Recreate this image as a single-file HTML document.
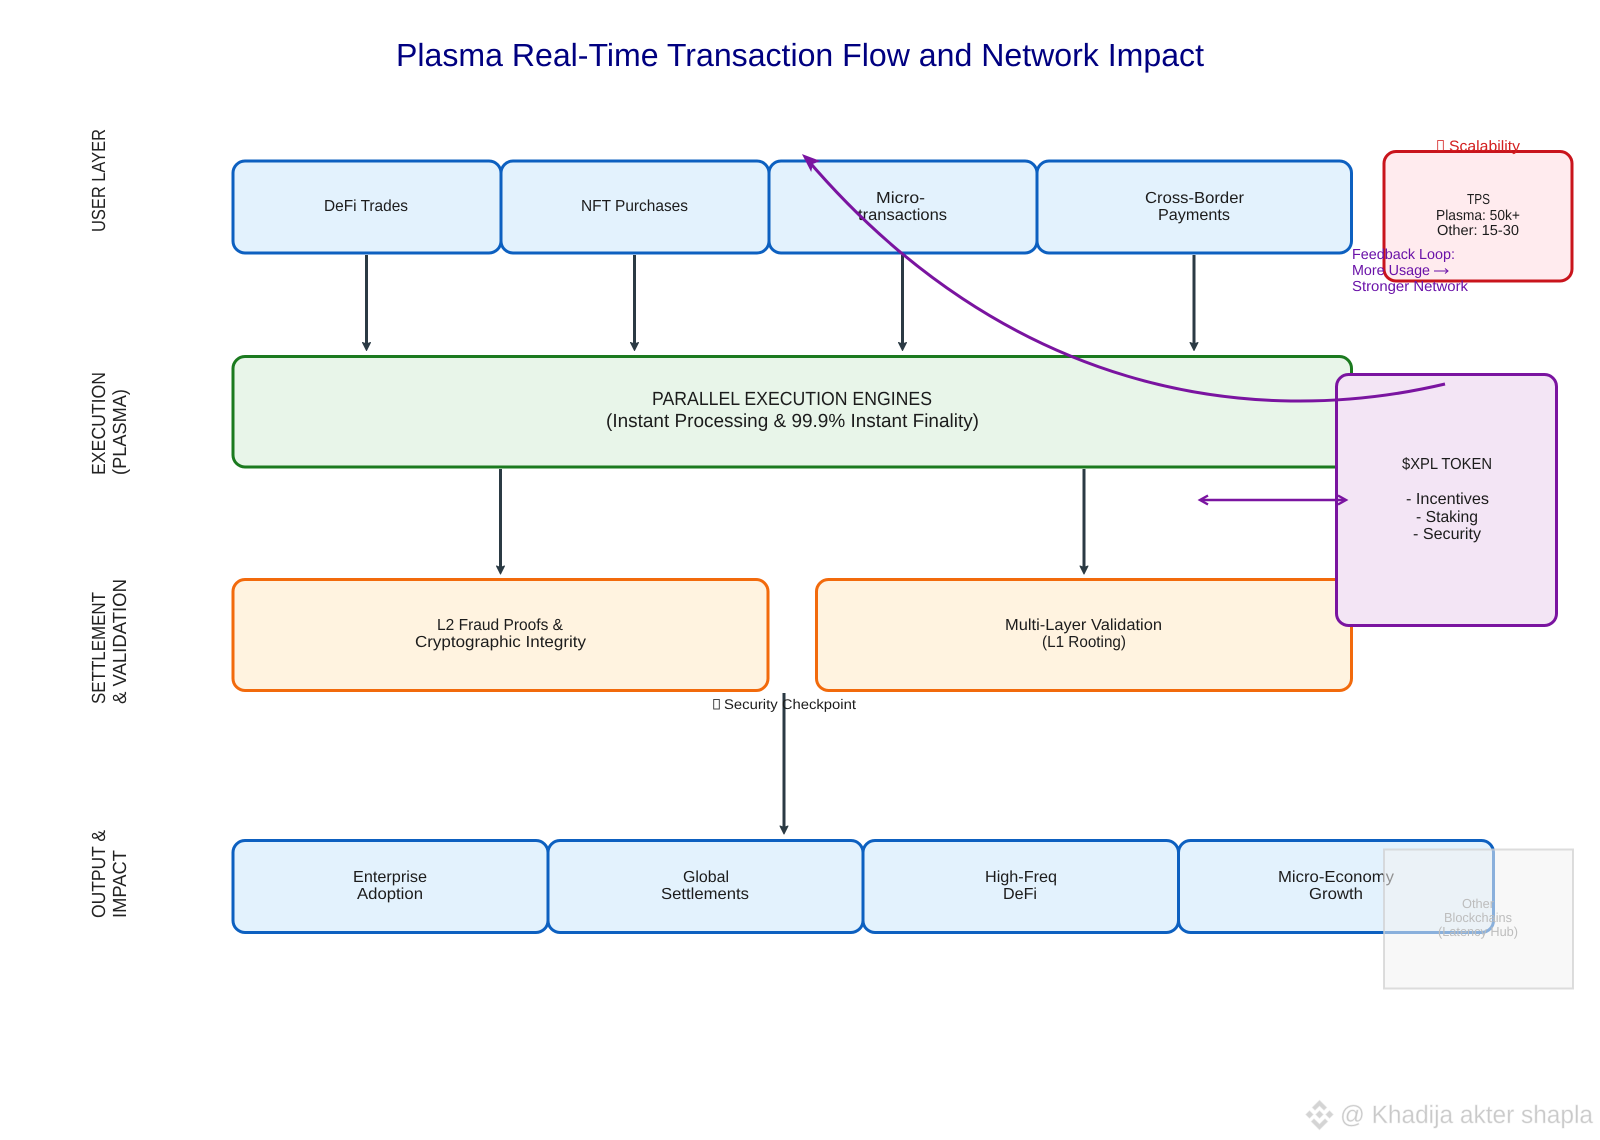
<!DOCTYPE html>
<html lang="en">
<head>
<meta charset="utf-8">
<title>Plasma Real-Time Transaction Flow and Network Impact</title>
<style>
html,body{margin:0;padding:0;background:#fff;}
svg{display:block;}
text{font-family:"Liberation Sans",sans-serif;fill:#1c1c1c;white-space:pre;text-rendering:geometricPrecision;}
.b{font-size:16px;}
.l{font-size:19px;fill:#222;}
</style>
</head>
<body>
<svg width="1600" height="1140" viewBox="0 0 1600 1140" xmlns="http://www.w3.org/2000/svg">
<rect width="1600" height="1140" fill="#fff"/>

<text x="396" y="66" font-size="32" style="fill:#000080" textLength="808" lengthAdjust="spacingAndGlyphs">Plasma Real-Time Transaction Flow and Network Impact</text>

<!-- Layer labels -->
<g class="labels">
<text class="l" transform="translate(105,232) rotate(-90)" textLength="103" lengthAdjust="spacingAndGlyphs">USER LAYER</text>
<text class="l" transform="translate(105,475) rotate(-90)" textLength="103" lengthAdjust="spacingAndGlyphs">EXECUTION</text>
<text class="l" transform="translate(126,475) rotate(-90)" textLength="86" lengthAdjust="spacingAndGlyphs">(PLASMA)</text>
<text class="l" transform="translate(105,704) rotate(-90)" textLength="112" lengthAdjust="spacingAndGlyphs">SETTLEMENT</text>
<text class="l" transform="translate(126,704) rotate(-90)" textLength="125" lengthAdjust="spacingAndGlyphs">&amp; VALIDATION</text>
<text class="l" transform="translate(105,918) rotate(-90)" textLength="88" lengthAdjust="spacingAndGlyphs">OUTPUT &amp;</text>
<text class="l" transform="translate(126,918) rotate(-90)" textLength="68" lengthAdjust="spacingAndGlyphs">IMPACT</text>
</g>

<!-- User layer -->
<g fill="#e3f2fd" stroke="#0d60c0" stroke-width="3">
<rect x="233" y="161" width="268" height="92" rx="12"/>
<rect x="501" y="161" width="268" height="92" rx="12"/>
<rect x="769" y="161" width="268" height="92" rx="12"/>
<rect x="1037" y="161" width="314.5" height="92" rx="12"/>
</g>
<text class="b" x="324" y="211" textLength="84" lengthAdjust="spacingAndGlyphs">DeFi Trades</text>
<text class="b" x="581" y="211" textLength="107" lengthAdjust="spacingAndGlyphs">NFT Purchases</text>
<text class="b" x="876" y="203" textLength="49" lengthAdjust="spacingAndGlyphs">Micro-</text>
<text class="b" x="858" y="220" textLength="89" lengthAdjust="spacingAndGlyphs">transactions</text>
<text class="b" x="1145" y="203" textLength="99" lengthAdjust="spacingAndGlyphs">Cross-Border</text>
<text class="b" x="1158" y="220" textLength="72" lengthAdjust="spacingAndGlyphs">Payments</text>

<!-- Execution -->
<rect x="233" y="356.5" width="1118.5" height="110.5" rx="12" fill="#e8f5e9" stroke="#1b7a1f" stroke-width="3"/>
<text x="652" y="405" font-size="19" textLength="280" lengthAdjust="spacingAndGlyphs">PARALLEL EXECUTION ENGINES</text>
<text x="606" y="427" font-size="19" textLength="373" lengthAdjust="spacingAndGlyphs">(Instant Processing &amp; 99.9% Instant Finality)</text>

<!-- Settlement -->
<g fill="#fff3e0" stroke="#f26a0c" stroke-width="3">
<rect x="233" y="579.5" width="535" height="111" rx="12"/>
<rect x="816.5" y="579.5" width="535" height="111" rx="12"/>
</g>
<text class="b" x="437" y="630" textLength="126" lengthAdjust="spacingAndGlyphs">L2 Fraud Proofs &amp;</text>
<text class="b" x="415" y="647" textLength="171" lengthAdjust="spacingAndGlyphs">Cryptographic Integrity</text>
<text class="b" x="1005" y="630" textLength="157" lengthAdjust="spacingAndGlyphs">Multi-Layer Validation</text>
<text class="b" x="1042" y="647" textLength="84" lengthAdjust="spacingAndGlyphs">(L1 Rooting)</text>

<!-- Output -->
<g fill="#e3f2fd" stroke="#0d60c0" stroke-width="3">
<rect x="233" y="840.5" width="315" height="92" rx="12"/>
<rect x="548" y="840.5" width="315" height="92" rx="12"/>
<rect x="863" y="840.5" width="315.5" height="92" rx="12"/>
<rect x="1178.5" y="840.5" width="315" height="92" rx="12"/>
</g>
<text class="b" x="353" y="882" textLength="74" lengthAdjust="spacingAndGlyphs">Enterprise</text>
<text class="b" x="357" y="899" textLength="66" lengthAdjust="spacingAndGlyphs">Adoption</text>
<text class="b" x="683" y="882" textLength="46" lengthAdjust="spacingAndGlyphs">Global</text>
<text class="b" x="661" y="899" textLength="88" lengthAdjust="spacingAndGlyphs">Settlements</text>
<text class="b" x="985" y="882" textLength="72" lengthAdjust="spacingAndGlyphs">High-Freq</text>
<text class="b" x="1003" y="899" textLength="34" lengthAdjust="spacingAndGlyphs">DeFi</text>
<text class="b" x="1278" y="882" textLength="116" lengthAdjust="spacingAndGlyphs">Micro-Economy</text>
<text class="b" x="1309" y="899" textLength="54" lengthAdjust="spacingAndGlyphs">Growth</text>

<!-- Dark vertical arrows -->
<g stroke="#2b3a44" stroke-width="3" fill="none">
<path d="M366.5 255V345"/>
<path d="M634.5 255V345"/>
<path d="M902.5 255V345"/>
<path d="M1194 255V345"/>
<path d="M500.5 469V568"/>
<path d="M1084 469V568"/>
<path d="M784 693V828"/>
</g>
<g fill="#2b3a44" stroke="#2b3a44" stroke-width="1" stroke-linejoin="round">
<path d="M362.5 342.5L366.5 344L370.5 342.5L366.5 350.5Z"/>
<path d="M630.5 342.5L634.5 344L638.5 342.5L634.5 350.5Z"/>
<path d="M898.5 342.5L902.5 344L906.5 342.5L902.5 350.5Z"/>
<path d="M1190 342.5L1194 344L1198 342.5L1194 350.5Z"/>
<path d="M496.5 566L500.5 567.5L504.5 566L500.5 574Z"/>
<path d="M1080 566L1084 567.5L1088 566L1084 574Z"/>
<path d="M780 826L784 827.5L788 826L784 834Z"/>
</g>

<!-- Security checkpoint label -->
<rect x="713.7" y="699.5" width="5.6" height="9.5" fill="none" stroke="#333" stroke-width="0.9"/>
<text x="724" y="709" font-size="14" textLength="132" lengthAdjust="spacingAndGlyphs">Security Checkpoint</text>

<!-- Scalability box -->
<rect x="1384" y="151.5" width="188" height="129.5" rx="12" fill="#ffebee" stroke="#c9141c" stroke-width="3"/>
<rect x="1437.7" y="140.5" width="5.6" height="10" fill="none" stroke="#d32020" stroke-width="0.8"/>
<text x="1449" y="151" font-size="15" style="fill:#d32020" textLength="71" lengthAdjust="spacingAndGlyphs">Scalability</text>
<text x="1467" y="204" font-size="14.5" textLength="23" lengthAdjust="spacingAndGlyphs">TPS</text>
<text x="1436" y="220" font-size="14.5" textLength="84" lengthAdjust="spacingAndGlyphs">Plasma: 50k+</text>
<text x="1437" y="235" font-size="14.5" textLength="82" lengthAdjust="spacingAndGlyphs">Other: 15-30</text>
<text x="1352" y="259" font-size="14.5" style="fill:#6a12a8" textLength="103" lengthAdjust="spacingAndGlyphs">Feedback Loop:</text>
<text x="1352" y="275" font-size="14.5" style="fill:#6a12a8" textLength="78" lengthAdjust="spacingAndGlyphs">More Usage</text>
<path d="M1434 271H1448M1445 268.5L1448 271L1445 273.5" stroke="#6a12a8" stroke-width="1" fill="none"/>
<text x="1352" y="291" font-size="14.5" style="fill:#6a12a8" textLength="116" lengthAdjust="spacingAndGlyphs">Stronger Network</text>

<!-- XPL token -->
<rect x="1336.5" y="374.5" width="220" height="251" rx="12" fill="#f3e5f5" stroke="#7a14a0" stroke-width="3"/>
<text class="b" x="1402" y="469" textLength="90" lengthAdjust="spacingAndGlyphs">$XPL TOKEN</text>
<text class="b" x="1406" y="504" textLength="83" lengthAdjust="spacingAndGlyphs">- Incentives</text>
<text class="b" x="1416" y="522" textLength="62" lengthAdjust="spacingAndGlyphs">- Staking</text>
<text class="b" x="1413" y="539" textLength="68" lengthAdjust="spacingAndGlyphs">- Security</text>

<!-- Purple connectors -->
<path d="M1445 384C1250 430 1005 392 806 158" fill="none" stroke="#7a14a0" stroke-width="3"/>
<path d="M803 155L819 161L812.5 163.5L811 170.5Z" fill="#7a14a0" stroke="#7a14a0" stroke-width="1"/>
<path d="M1201 500H1345" fill="none" stroke="#7a14a0" stroke-width="2.4"/>
<path d="M1208 495.5L1200 500L1208 504.5M1338 495.5L1346 500L1338 504.5" fill="none" stroke="#7a14a0" stroke-width="2.4"/>

<!-- Other blockchains overlay -->
<rect x="1384" y="849.5" width="189" height="139" fill="#f2f2f2" fill-opacity="0.55" stroke="#cfcfcf" stroke-opacity="0.7" stroke-width="2"/>
<text x="1462" y="908" font-size="13" style="fill:#bdbdbd" textLength="32" lengthAdjust="spacingAndGlyphs">Other</text>
<text x="1444" y="922" font-size="13" style="fill:#bdbdbd" textLength="68" lengthAdjust="spacingAndGlyphs">Blockchains</text>
<text x="1438" y="936" font-size="13" style="fill:#bdbdbd" textLength="80" lengthAdjust="spacingAndGlyphs">(Latency Hub)</text>

<!-- Watermark -->
<g fill="#d4d4d4" stroke="#ececec" stroke-width="0.6">
<path d="M1319.5 1100L1327 1107.5L1324 1110.5L1319.5 1106L1315 1110.5L1312 1107.5Z"/>
<path d="M1319.5 1110.5L1323.5 1114.5L1319.5 1118.5L1315.5 1114.5Z"/>
<path d="M1309.5 1110.5L1313.5 1114.5L1309.5 1118.5L1305.5 1114.5Z"/>
<path d="M1329.5 1110.5L1333.5 1114.5L1329.5 1118.5L1325.5 1114.5Z"/>
<path d="M1319.5 1130L1311 1121.5L1314 1118.5L1319.5 1124L1325 1118.5L1328 1121.5Z"/>
</g>
<text x="1340" y="1123" font-size="25" style="fill:#c9c9c9;stroke:#eeeeee;stroke-width:.5" textLength="253" lengthAdjust="spacingAndGlyphs">@ Khadija akter shapla</text>
</svg>
</body>
</html>
